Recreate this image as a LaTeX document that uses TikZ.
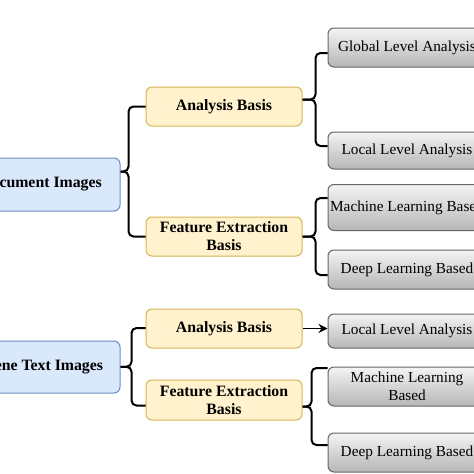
\documentclass[tikz,border=0pt]{standalone}
\usepackage{fontspec}
\setmainfont{Liberation Serif}
\usetikzlibrary{calc,arrows.meta}
\definecolor{bluefill}{HTML}{DAE8FC}
\definecolor{blueline}{HTML}{6C8EBF}
\definecolor{yelfill}{HTML}{FFF2CC}
\definecolor{yelline}{HTML}{D6B656}
\definecolor{grayline}{HTML}{666666}
\definecolor{graytop}{HTML}{F4F4F4}
\definecolor{graybot}{HTML}{B6B6B6}
\tikzset{
  basebox/.style={rounded corners=6pt, line width=1pt, align=center, inner sep=0pt,
    font=\fontsize{15.3}{18}\selectfont},
  bluebox/.style={basebox, draw=blueline, fill=bluefill, font=\fontsize{15.8}{18}\selectfont\bfseries,
    minimum width=158pt, minimum height=53pt},
  yelbox/.style={basebox, draw=yelline, fill=yelfill, font=\fontsize{15.8}{18}\selectfont\bfseries,
    minimum width=156pt, minimum height=39pt},
  graybox/.style={basebox, draw=grayline, top color=graytop, bottom color=graybot,
    minimum width=158pt, minimum height=39pt},
  conn/.style={draw=black, line width=2pt, rounded corners=5pt},
  arr/.style={draw=black, line width=1.4pt, -{Stealth[length=9pt,width=9pt]}}
}
\begin{document}
\begin{tikzpicture}[x=1pt,y=-1pt]
\useasboundingbox (0,0) rectangle (474,474);
\clip (0,0) rectangle (474,474);
\fill[white] (0,0) rectangle (474,474);
% level 1
\node[bluebox] (doc) at (41,184.5) {Document Images};
\node[bluebox, minimum height=52pt] (scene) at (41,367) {Scene Text Images};
% level 2
\node[yelbox] (an1) at (224,106.5) {Analysis Basis};
\node[yelbox] (fe1) at (224,236.5) {Feature Extraction\\Basis};
\node[yelbox] (an2) at (224,328.5) {Analysis Basis};
\node[yelbox, minimum height=40pt] (fe2) at (224,400) {Feature Extraction\\Basis};
% level 3
\node[graybox] (glob) at (407,47.5) {Global Level Analysis};
\node[graybox, minimum height=37pt] (loc1) at (407,150.5) {Local Level Analysis};
\node[graybox, minimum height=46pt] (ml1) at (407,207.5) {Machine Learning Based};
\node[graybox] (dl1) at (407,269.5) {Deep Learning Based};
\node[graybox, minimum height=34pt] (loc2) at (407,331) {Local Level Analysis};
\node[graybox] (ml2) at (407,386.5) {Machine Learning\\Based};
\node[graybox] (dl2) at (407,452.5) {Deep Learning Based};
% left braces
\coordinate (m1) at ($(an1.west)!0.5!(fe1.west)$);
\draw[conn] (doc.east |- m1) -- ++(8,0) |- (an1.west);
\draw[conn] (doc.east |- m1) -- ++(8,0) |- (fe1.west);
\coordinate (t2) at ([yshift=0.5pt]an2.west);
\coordinate (b2) at ([yshift=-5.5pt]fe2.west);
\coordinate (m2) at ($(t2)!0.5!(b2)$);
\draw[conn] (scene.east |- m2) -- ++(11,0) |- (t2);
\draw[conn] (scene.east |- m2) -- ++(11,0) |- (b2);
% right braces
\coordinate (t3) at ([yshift=-5.5pt]glob.west);
\coordinate (b3) at ([yshift=4.5pt]loc1.west);
\coordinate (m3) at ($(t3)!0.5!(b3)$);
\draw[conn] (an1.east |- m3) -- ++(13,0) |- (t3);
\draw[conn] (an1.east |- m3) -- ++(13,0) |- (b3);
\coordinate (t4) at ([yshift=9.5pt]ml1.west);
\coordinate (b4) at ([yshift=-5.5pt]dl1.west);
\draw[conn] (fe1.east) -- ++(13,0) |- (t4);
\draw[conn] (fe1.east) -- ++(13,0) |- (b4);
\draw[arr] (an2.east) -- (an2.east -| loc2.west);
\coordinate (t5) at ([yshift=18.5pt]ml2.west);
\coordinate (b5) at ([yshift=7.5pt]dl2.west);
\coordinate (m5) at ($(t5)!0.5!(b5)$);
\draw[conn] (fe2.east |- m5) -- ++(9,0) |- (t5);
\draw[conn] (fe2.east |- m5) -- ++(9,0) |- (b5);
\end{tikzpicture}
\end{document}
